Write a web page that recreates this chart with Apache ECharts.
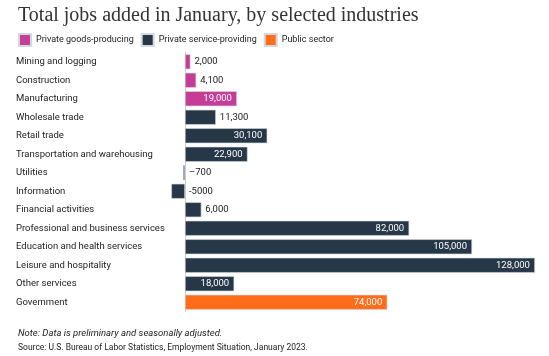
<!DOCTYPE html>
<html><head><meta charset="utf-8">
<script src="https://cdn.jsdelivr.net/npm/echarts@6/dist/echarts.min.js"></script>
<style>html,body{margin:0;padding:0;background:#fff}#c{width:549px;height:356px}</style>
</head><body><div id="c"></div>
<script>
const categories = ['Mining and logging','Construction','Manufacturing','Wholesale trade','Retail trade','Transportation and warehousing','Utilities','Information','Financial activities','Professional and business services','Education and health services','Leisure and hospitality','Other services','Government'];
const values = [2000,4100,19000,11300,30100,22900,-700,-5000,6000,82000,105000,128000,18000,74000];
const valueLabels = ['2,000','4,100','19,000','11,300','30,100','22,900','\u2013700','-5000','6,000','82,000','105,000','128,000','18,000','74,000'];
const groups = [0,0,0,1,1,1,1,1,1,1,1,1,1,2];
const groupNames = ['Private goods-producing','Private service-providing','Public sector'];
const groupColors = ['#c43d97','#263747','#ff6d1a'];

const font = 'Roboto, "Liberation Sans", sans-serif';
const series = groupNames.map((name, g) => ({
  name, type: 'bar', barWidth: 15, barGap: '-100%',
  itemStyle: { color: groupColors[g], borderColor: '#d5d9de', borderWidth: 0.6 },
  data: values.map((v, i) => {
    if (groups[i] !== g) return '-';
    const inside = v >= 15000;
    return { value: v, label: {
      show: true, position: inside ? 'insideRight' : 'right', distance: inside ? 5 : 4,
      color: inside ? '#ffffff' : '#222222', fontSize: 9.5, fontFamily: font,
      formatter: () => valueLabels[i] } };
  })
}));

const chart = echarts.init(document.getElementById('c'));
chart.setOption({
  animation: false,
  backgroundColor: '#ffffff',
  title: [
    { text: 'Total jobs added in January, by selected industries', left: 13, top: 1,
      textStyle: { fontFamily: '"Liberation Serif", serif', fontSize: 20, fontWeight: 'normal', color: '#333' } },
    { text: 'Note: Data is preliminary and seasonally adjusted.', left: 13, top: 324,
      textStyle: { fontFamily: font, fontSize: 9.5, fontStyle: 'italic', fontWeight: 'normal', color: '#222' } },
    { text: 'Source: U.S. Bureau of Labor Statistics, Employment Situation, January 2023.', left: 13, top: 338,
      textStyle: { fontFamily: font, fontSize: 8.5, fontWeight: 'normal', color: '#222' } }
  ],
  legend: {
    left: 13, top: 28, itemWidth: 12, itemHeight: 12, itemGap: 7, icon: 'rect',
    textStyle: { fontFamily: font, fontSize: 9, color: '#222' },
    data: groupNames
  },
  grid: { left: 171.3, right: 8.6, top: 52.5, height: 259, containLabel: false },
  xAxis: { type: 'value', min: -5000, max: 130000,
    axisLine: { show: false }, axisTick: { show: false }, axisLabel: { show: false }, splitLine: { show: false } },
  yAxis: { type: 'category', data: categories, inverse: true,
    axisLine: { show: true, onZero: true, lineStyle: { color: '#cccccc', width: 1 } },
    axisTick: { show: false },
    axisLabel: { align: 'left', margin: 155.3, fontFamily: font, fontSize: 9.5, color: '#222' } },
  series
});
</script></body></html>
